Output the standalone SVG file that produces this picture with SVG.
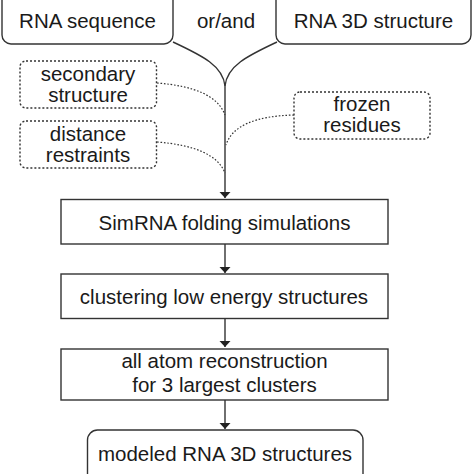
<svg xmlns="http://www.w3.org/2000/svg" width="474" height="474" viewBox="0 0 474 474">
<defs>
<style>
.box{fill:#fff;stroke:#333;stroke-width:1.4}
.dbox{fill:#fff;stroke:#333;stroke-width:1.4;stroke-dasharray:2 2}
.t{font-family:"Liberation Sans",Arial,sans-serif;font-size:20.5px;fill:#1a1a1a;text-anchor:middle}
.ln{fill:none;stroke:#333;stroke-width:1.4}
.dl{fill:none;stroke:#333;stroke-width:1.2;stroke-dasharray:1.6 1.8}
</style>
<marker id="ah" viewBox="0 0 6 12" refX="6" refY="6" markerWidth="6" markerHeight="12" markerUnits="userSpaceOnUse" orient="auto">
<path d="M0,0.5 L0,11.5 L6,6 Z" fill="#222"/>
</marker>
</defs>
<rect width="474" height="474" fill="#fff"/>
<g id="connectors">
<path class="ln" d="M173,42 C203,56 223,66 225,86"/>
<path class="ln" d="M277,42 C247,56 227,66 225,86"/>
<path class="ln" d="M225,86 L225,198" marker-end="url(#ah)"/>
<path class="dl" d="M157,83 C195,86 218,96 225,115"/>
<path class="dl" d="M157,142 C195,145 218,155 225,173"/>
<path class="dl" d="M294,115 C255,116 232,126 226,145"/>
<path class="ln" d="M225,244 L225,273" marker-end="url(#ah)"/>
<path class="ln" d="M225,319 L225,347" marker-end="url(#ah)"/>
<path class="ln" d="M225,400 L225,429" marker-end="url(#ah)"/>
</g>
<g id="rna-sequence">
<rect class="box" x="2" y="-12" width="171" height="56" rx="9"/>
<text class="t" x="87.5" y="28">RNA sequence</text>
</g>
<g id="or-and">
<text class="t" x="226" y="28">or/and</text>
</g>
<g id="rna-3d-structure">
<rect class="box" x="276" y="-12" width="195" height="56" rx="9"/>
<text class="t" x="373.5" y="28">RNA 3D structure</text>
</g>
<g id="secondary-structure">
<rect class="dbox" x="20" y="61" width="136.5" height="47" rx="6"/>
<text class="t" x="88" y="81">secondary</text>
<text class="t" x="88" y="102">structure</text>
</g>
<g id="distance-restraints">
<rect class="dbox" x="20" y="121" width="136.5" height="47" rx="6"/>
<text class="t" x="88" y="140.5">distance</text>
<text class="t" x="88" y="161.5">restraints</text>
</g>
<g id="frozen-residues">
<rect class="dbox" x="294" y="92" width="136" height="47" rx="6"/>
<text class="t" x="362" y="111">frozen</text>
<text class="t" x="362" y="132">residues</text>
</g>
<g id="simrna">
<rect class="box" x="61" y="199.5" width="327" height="44.5"/>
<text class="t" x="224.5" y="230">SimRNA folding simulations</text>
</g>
<g id="clustering">
<rect class="box" x="61" y="274" width="327" height="44.5"/>
<text class="t" x="224" y="304">clustering low energy structures</text>
</g>
<g id="reconstruction">
<rect class="box" x="61" y="349" width="327" height="51"/>
<text class="t" x="224.5" y="368">all atom reconstruction</text>
<text class="t" x="224.5" y="391.5">for 3 largest clusters</text>
</g>
<g id="modeled">
<rect class="box" x="87.5" y="430" width="275.5" height="60" rx="10"/>
<text class="t" x="225" y="460.5">modeled RNA 3D structures</text>
</g>
</svg>
